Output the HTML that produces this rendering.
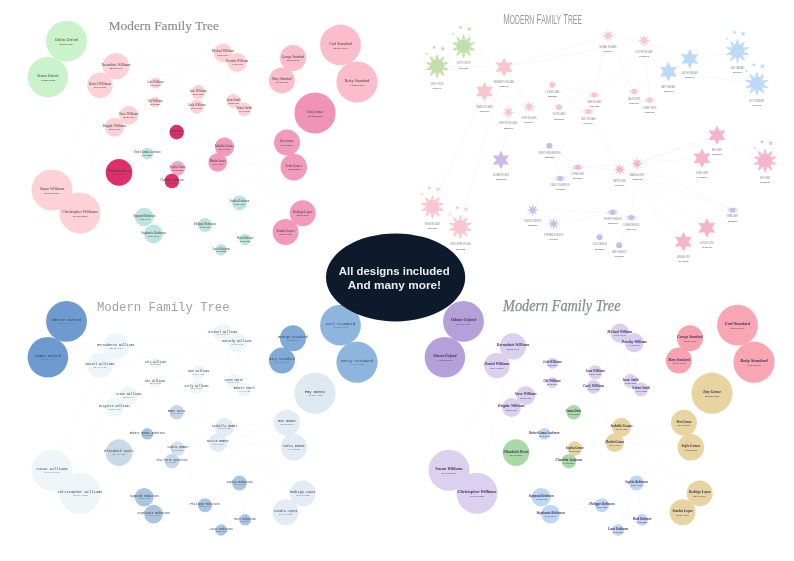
<!DOCTYPE html>
<html><head><meta charset="utf-8"><style>
html,body{margin:0;padding:0;background:#fff;width:794px;height:561px;overflow:hidden}
svg{display:block;filter:blur(0.35px)}
</style></head><body>
<svg width="794" height="561" viewBox="0 0 794 561">
<rect width="794" height="561" fill="#fff"/>
<g transform="translate(0,0)">
<g stroke="#f4f4f4" stroke-width="0.5">
<line x1="66.5" y1="41.2" x2="116" y2="66.2"/>
<line x1="47.9" y1="77.1" x2="116" y2="66.2"/>
<line x1="116" y1="66.2" x2="222.9" y2="52.8"/>
<line x1="100" y1="85.3" x2="237.2" y2="62.5"/>
<line x1="100" y1="85.3" x2="128.8" y2="115.3"/>
<line x1="100" y1="85.3" x2="114.5" y2="127.3"/>
<line x1="100" y1="85.3" x2="52" y2="190"/>
<line x1="116" y1="66.2" x2="80" y2="213"/>
<line x1="155.5" y1="83.1" x2="198.3" y2="92.2"/>
<line x1="155.5" y1="83.1" x2="196.7" y2="106.7"/>
<line x1="155.2" y1="102.2" x2="198.3" y2="92.2"/>
<line x1="155.2" y1="102.2" x2="196.7" y2="106.7"/>
<line x1="222.9" y1="52.8" x2="198.3" y2="92.2"/>
<line x1="237.2" y1="62.5" x2="196.7" y2="106.7"/>
<line x1="222.9" y1="52.8" x2="233.5" y2="100.9"/>
<line x1="237.2" y1="62.5" x2="244.2" y2="109.3"/>
<line x1="237.2" y1="62.5" x2="293" y2="58"/>
<line x1="237.2" y1="62.5" x2="281.9" y2="80.4"/>
<line x1="293" y1="58" x2="340.5" y2="45"/>
<line x1="281.9" y1="80.4" x2="357" y2="82"/>
<line x1="196.7" y1="106.7" x2="217.7" y2="162.4"/>
<line x1="217.7" y1="162.4" x2="287" y2="142.5"/>
<line x1="217.7" y1="162.4" x2="293.8" y2="167.1"/>
<line x1="224.5" y1="147" x2="287" y2="142.5"/>
<line x1="217.7" y1="162.4" x2="302.7" y2="213.2"/>
<line x1="217.7" y1="162.4" x2="285.6" y2="232"/>
<line x1="224.5" y1="147" x2="177.7" y2="168.4"/>
<line x1="217.7" y1="162.4" x2="177.7" y2="168.4"/>
<line x1="217.7" y1="162.4" x2="239.5" y2="202.8"/>
<line x1="239.5" y1="202.8" x2="205" y2="225"/>
<line x1="205" y1="225" x2="221.2" y2="249.8"/>
<line x1="205" y1="225" x2="245.1" y2="239.6"/>
<line x1="239.5" y1="202.8" x2="245.1" y2="239.6"/>
<line x1="239.5" y1="202.8" x2="221.2" y2="249.8"/>
<line x1="205" y1="225" x2="144.2" y2="217"/>
<line x1="205" y1="225" x2="153.5" y2="233.9"/>
<line x1="147.3" y1="153.6" x2="177.7" y2="168.4"/>
<line x1="147.3" y1="153.6" x2="171.9" y2="181"/>
<line x1="119" y1="172.4" x2="114.5" y2="127.3"/>
<line x1="176.7" y1="132.1" x2="224.5" y2="147"/>
<line x1="315" y1="113" x2="357" y2="82"/>
<line x1="224.5" y1="147" x2="302.7" y2="213.2"/>
</g>
<circle cx="66.5" cy="41.2" r="20.45" fill="#cbf3cb"/>
<circle cx="47.9" cy="77.1" r="20.3" fill="#cbf3cb"/>
<circle cx="116" cy="66.2" r="13.2" fill="#fdd1d6"/>
<circle cx="100" cy="85.3" r="12.7" fill="#fdd1d6"/>
<circle cx="155.5" cy="83.1" r="5.5" fill="#fdd1d6"/>
<circle cx="155.2" cy="102.2" r="5.4" fill="#fdd1d6"/>
<circle cx="128.8" cy="115.3" r="9.5" fill="#fdd1d6"/>
<circle cx="114.5" cy="127.3" r="9.5" fill="#fdd1d6"/>
<circle cx="198.3" cy="92.2" r="7.1" fill="#fdd1d6"/>
<circle cx="196.7" cy="106.7" r="7" fill="#fdd1d6"/>
<circle cx="222.9" cy="52.8" r="9.4" fill="#fdd1d6"/>
<circle cx="237.2" cy="62.5" r="9.6" fill="#fdd1d6"/>
<circle cx="233.5" cy="100.9" r="7" fill="#fdd1d6"/>
<circle cx="244.2" cy="109.3" r="7" fill="#fdd1d6"/>
<circle cx="293" cy="58" r="13" fill="#fbbccb"/>
<circle cx="281.9" cy="80.4" r="13" fill="#fbbccb"/>
<circle cx="340.5" cy="45" r="20.4" fill="#fbbccb"/>
<circle cx="357" cy="82" r="20.6" fill="#fbbccb"/>
<circle cx="315" cy="113" r="20.6" fill="#f193b6"/>
<circle cx="287" cy="142.5" r="13" fill="#f29ab9"/>
<circle cx="293.8" cy="167.1" r="13.3" fill="#f29ab9"/>
<circle cx="224.5" cy="147" r="9.5" fill="#f29ab9"/>
<circle cx="217.7" cy="162.4" r="9.3" fill="#f29ab9"/>
<circle cx="119" cy="172.4" r="13.3" fill="#de2f69"/>
<circle cx="176.7" cy="132.1" r="7.3" fill="#de2f69"/>
<circle cx="147.3" cy="153.6" r="5.8" fill="#bde5e0"/>
<circle cx="177.7" cy="168.4" r="7.3" fill="#f3a8c2"/>
<circle cx="171.9" cy="181" r="7.3" fill="#de2f69"/>
<circle cx="52" cy="190" r="20.5" fill="#fdd1d6"/>
<circle cx="80" cy="213" r="20.5" fill="#fdd1d6"/>
<circle cx="144.2" cy="217" r="9.3" fill="#bde5e0"/>
<circle cx="153.5" cy="233.9" r="9.4" fill="#bde5e0"/>
<circle cx="239.5" cy="202.8" r="7.4" fill="#bde5e0"/>
<circle cx="205" cy="225" r="7" fill="#bde5e0"/>
<circle cx="245.1" cy="239.6" r="5.8" fill="#bde5e0"/>
<circle cx="221.2" cy="249.8" r="5.8" fill="#bde5e0"/>
<circle cx="302.7" cy="213.2" r="13" fill="#f29ab9"/>
<circle cx="285.6" cy="232" r="13" fill="#f29ab9"/>
<g font-family='"Liberation Serif", serif' font-style="normal" font-weight="normal" text-anchor="middle">
<text x="66.5" y="40.78" font-size="4.24" fill="#3e3e3e" textLength="22.95" lengthAdjust="spacingAndGlyphs">Odette Oxford</text>
<text x="66.5" y="44.8" font-size="2.88" fill="#505050" font-style="normal" font-weight="bold" textLength="14.66" lengthAdjust="spacingAndGlyphs">03/04/1951</text>
<text x="47.9" y="76.68" font-size="4.23" fill="#3e3e3e" textLength="21.13" lengthAdjust="spacingAndGlyphs">Simon Oxford</text>
<text x="47.9" y="80.69" font-size="2.87" fill="#505050" font-style="normal" font-weight="bold" textLength="14.61" lengthAdjust="spacingAndGlyphs">14/06/1949</text>
<text x="116" y="65.84" font-size="3.63" fill="#3e3e3e" textLength="28.73" lengthAdjust="spacingAndGlyphs">Bernadette Williams</text>
<text x="116" y="69.28" font-size="2.47" fill="#505050" font-style="normal" font-weight="bold" textLength="12.55" lengthAdjust="spacingAndGlyphs">08/02/1974</text>
<text x="100" y="84.94" font-size="3.59" fill="#3e3e3e" textLength="22.42" lengthAdjust="spacingAndGlyphs">Daniel Williams</text>
<text x="100" y="88.35" font-size="2.44" fill="#505050" font-style="normal" font-weight="bold" textLength="12.4" lengthAdjust="spacingAndGlyphs">05/11/1970</text>
<text x="155.5" y="82.8" font-size="2.98" fill="#3e3e3e" textLength="16.15" lengthAdjust="spacingAndGlyphs">Lola Williams</text>
<text x="155.5" y="85.63" font-size="2.03" fill="#505050" font-style="normal" font-weight="bold" textLength="10.31" lengthAdjust="spacingAndGlyphs">12/05/2001</text>
<text x="155.2" y="101.9" font-size="2.97" fill="#3e3e3e" textLength="14.87" lengthAdjust="spacingAndGlyphs">Oki Williams</text>
<text x="155.2" y="104.73" font-size="2.02" fill="#505050" font-style="normal" font-weight="bold" textLength="10.28" lengthAdjust="spacingAndGlyphs">22/10/2003</text>
<text x="128.8" y="114.97" font-size="3.32" fill="#3e3e3e" textLength="19.36" lengthAdjust="spacingAndGlyphs">Steve Williams</text>
<text x="128.8" y="118.12" font-size="2.26" fill="#505050" font-style="normal" font-weight="bold" textLength="11.47" lengthAdjust="spacingAndGlyphs">02/08/1999</text>
<text x="114.5" y="126.97" font-size="3.32" fill="#3e3e3e" textLength="23.5" lengthAdjust="spacingAndGlyphs">Brigitte Williams</text>
<text x="114.5" y="130.12" font-size="2.26" fill="#505050" font-style="normal" font-weight="bold" textLength="11.47" lengthAdjust="spacingAndGlyphs">18/03/1997</text>
<text x="198.3" y="91.89" font-size="3.12" fill="#3e3e3e" textLength="16.88" lengthAdjust="spacingAndGlyphs">Jane Williams</text>
<text x="198.3" y="94.85" font-size="2.12" fill="#505050" font-style="normal" font-weight="bold" textLength="10.78" lengthAdjust="spacingAndGlyphs">09/01/1962</text>
<text x="196.7" y="106.39" font-size="3.11" fill="#3e3e3e" textLength="18.13" lengthAdjust="spacingAndGlyphs">Carly Williams</text>
<text x="196.7" y="109.34" font-size="2.11" fill="#505050" font-style="normal" font-weight="bold" textLength="10.75" lengthAdjust="spacingAndGlyphs">07/07/1964</text>
<text x="222.9" y="52.47" font-size="3.31" fill="#3e3e3e" textLength="22.06" lengthAdjust="spacingAndGlyphs">Michael Williams</text>
<text x="222.9" y="55.61" font-size="2.25" fill="#505050" font-style="normal" font-weight="bold" textLength="11.45" lengthAdjust="spacingAndGlyphs">04/09/1941</text>
<text x="237.2" y="62.17" font-size="3.33" fill="#3e3e3e" textLength="22.18" lengthAdjust="spacingAndGlyphs">Dorothy Williams</text>
<text x="237.2" y="65.33" font-size="2.26" fill="#505050" font-style="normal" font-weight="bold" textLength="11.5" lengthAdjust="spacingAndGlyphs">17/12/1943</text>
<text x="233.5" y="100.59" font-size="3.11" fill="#3e3e3e" textLength="14.25" lengthAdjust="spacingAndGlyphs">Jason Smith</text>
<text x="233.5" y="103.54" font-size="2.11" fill="#505050" font-style="normal" font-weight="bold" textLength="10.75" lengthAdjust="spacingAndGlyphs">30/06/1960</text>
<text x="244.2" y="108.99" font-size="3.11" fill="#3e3e3e" textLength="15.54" lengthAdjust="spacingAndGlyphs">Robert Smith</text>
<text x="244.2" y="111.94" font-size="2.11" fill="#505050" font-style="normal" font-weight="bold" textLength="10.75" lengthAdjust="spacingAndGlyphs">11/11/1958</text>
<text x="293" y="57.64" font-size="3.61" fill="#3e3e3e" textLength="22.58" lengthAdjust="spacingAndGlyphs">George Standard</text>
<text x="293" y="61.07" font-size="2.46" fill="#505050" font-style="normal" font-weight="bold" textLength="12.49" lengthAdjust="spacingAndGlyphs">02/02/1946</text>
<text x="281.9" y="80.04" font-size="3.61" fill="#3e3e3e" textLength="19.57" lengthAdjust="spacingAndGlyphs">Mary Standard</text>
<text x="281.9" y="83.47" font-size="2.46" fill="#505050" font-style="normal" font-weight="bold" textLength="12.49" lengthAdjust="spacingAndGlyphs">21/05/1948</text>
<text x="340.5" y="44.58" font-size="4.23" fill="#3e3e3e" textLength="22.93" lengthAdjust="spacingAndGlyphs">Carl Standard</text>
<text x="340.5" y="48.6" font-size="2.88" fill="#505050" font-style="normal" font-weight="bold" textLength="14.64" lengthAdjust="spacingAndGlyphs">02/07/1977</text>
<text x="357" y="81.57" font-size="4.25" fill="#3e3e3e" textLength="24.79" lengthAdjust="spacingAndGlyphs">Betty Standard</text>
<text x="357" y="85.61" font-size="2.89" fill="#505050" font-style="normal" font-weight="bold" textLength="14.7" lengthAdjust="spacingAndGlyphs">14/04/1979</text>
<text x="315" y="112.57" font-size="4.25" fill="#3e3e3e" textLength="15.94" lengthAdjust="spacingAndGlyphs">Emy Gomez</text>
<text x="315" y="116.61" font-size="2.89" fill="#505050" font-style="normal" font-weight="bold" textLength="14.7" lengthAdjust="spacingAndGlyphs">28/08/1980</text>
<text x="287" y="142.14" font-size="3.61" fill="#3e3e3e" textLength="13.55" lengthAdjust="spacingAndGlyphs">Ben Gomez</text>
<text x="287" y="145.57" font-size="2.46" fill="#505050" font-style="normal" font-weight="bold" textLength="12.49" lengthAdjust="spacingAndGlyphs">05/03/2004</text>
<text x="293.8" y="166.74" font-size="3.64" fill="#3e3e3e" textLength="16.67" lengthAdjust="spacingAndGlyphs">Sofia Gomez</text>
<text x="293.8" y="170.19" font-size="2.47" fill="#505050" font-style="normal" font-weight="bold" textLength="12.58" lengthAdjust="spacingAndGlyphs">19/09/2006</text>
<text x="224.5" y="146.67" font-size="3.32" fill="#3e3e3e" textLength="19.36" lengthAdjust="spacingAndGlyphs">Isabella Gomez</text>
<text x="224.5" y="149.82" font-size="2.26" fill="#505050" font-style="normal" font-weight="bold" textLength="11.47" lengthAdjust="spacingAndGlyphs">08/10/1982</text>
<text x="217.7" y="162.07" font-size="3.3" fill="#3e3e3e" textLength="16.51" lengthAdjust="spacingAndGlyphs">Martin Gomez</text>
<text x="217.7" y="165.21" font-size="2.24" fill="#505050" font-style="normal" font-weight="bold" textLength="11.42" lengthAdjust="spacingAndGlyphs">16/01/1979</text>
<text x="119" y="172.04" font-size="3.64" fill="#3e3e3e" textLength="22.73" lengthAdjust="spacingAndGlyphs">Elizabeth Davis</text>
<text x="119" y="175.49" font-size="2.47" fill="#505050" font-style="normal" font-weight="bold" textLength="12.58" lengthAdjust="spacingAndGlyphs">25/12/1985</text>
<text x="176.7" y="131.79" font-size="3.13" fill="#3e3e3e" textLength="13.06" lengthAdjust="spacingAndGlyphs">Emma Davis</text>
<text x="176.7" y="134.76" font-size="2.13" fill="#505050" font-style="normal" font-weight="bold" textLength="10.84" lengthAdjust="spacingAndGlyphs">03/03/2008</text>
<text x="147.3" y="153.3" font-size="3.01" fill="#3e3e3e" textLength="26.31" lengthAdjust="spacingAndGlyphs">Robert Gomez Anderson</text>
<text x="147.3" y="156.16" font-size="2.04" fill="#505050" font-style="normal" font-weight="bold" textLength="10.4" lengthAdjust="spacingAndGlyphs">12/12/2010</text>
<text x="177.7" y="168.09" font-size="3.13" fill="#3e3e3e" textLength="15.67" lengthAdjust="spacingAndGlyphs">Sophia Gomez</text>
<text x="177.7" y="171.06" font-size="2.13" fill="#505050" font-style="normal" font-weight="bold" textLength="10.84" lengthAdjust="spacingAndGlyphs">06/06/2009</text>
<text x="171.9" y="180.69" font-size="3.13" fill="#3e3e3e" textLength="23.5" lengthAdjust="spacingAndGlyphs">Charlotte Anderson</text>
<text x="171.9" y="183.66" font-size="2.13" fill="#505050" font-style="normal" font-weight="bold" textLength="10.84" lengthAdjust="spacingAndGlyphs">01/09/2011</text>
<text x="52" y="189.58" font-size="4.24" fill="#3e3e3e" textLength="24.75" lengthAdjust="spacingAndGlyphs">Susan Williams</text>
<text x="52" y="193.61" font-size="2.88" fill="#505050" font-style="normal" font-weight="bold" textLength="14.67" lengthAdjust="spacingAndGlyphs">27/04/1967</text>
<text x="80" y="212.58" font-size="4.24" fill="#3e3e3e" textLength="35.35" lengthAdjust="spacingAndGlyphs">Christopher Williams</text>
<text x="80" y="216.61" font-size="2.88" fill="#505050" font-style="normal" font-weight="bold" textLength="14.67" lengthAdjust="spacingAndGlyphs">10/10/1965</text>
<text x="144.2" y="216.67" font-size="3.3" fill="#3e3e3e" textLength="22.01" lengthAdjust="spacingAndGlyphs">Sigmund Robinson</text>
<text x="144.2" y="219.81" font-size="2.24" fill="#505050" font-style="normal" font-weight="bold" textLength="11.42" lengthAdjust="spacingAndGlyphs">13/02/1972</text>
<text x="153.5" y="233.57" font-size="3.31" fill="#3e3e3e" textLength="24.82" lengthAdjust="spacingAndGlyphs">Stephanie Robinson</text>
<text x="153.5" y="236.71" font-size="2.25" fill="#505050" font-style="normal" font-weight="bold" textLength="11.45" lengthAdjust="spacingAndGlyphs">04/04/1974</text>
<text x="239.5" y="202.49" font-size="3.14" fill="#3e3e3e" textLength="19.64" lengthAdjust="spacingAndGlyphs">Sophia Robinson</text>
<text x="239.5" y="205.47" font-size="2.14" fill="#505050" font-style="normal" font-weight="bold" textLength="10.86" lengthAdjust="spacingAndGlyphs">20/07/1998</text>
<text x="205" y="224.69" font-size="3.11" fill="#3e3e3e" textLength="22.02" lengthAdjust="spacingAndGlyphs">Philippe Robinson</text>
<text x="205" y="227.64" font-size="2.11" fill="#505050" font-style="normal" font-weight="bold" textLength="10.75" lengthAdjust="spacingAndGlyphs">15/05/1995</text>
<text x="245.1" y="239.3" font-size="3.01" fill="#3e3e3e" textLength="16.29" lengthAdjust="spacingAndGlyphs">Mark Robinson</text>
<text x="245.1" y="242.16" font-size="2.04" fill="#505050" font-style="normal" font-weight="bold" textLength="10.4" lengthAdjust="spacingAndGlyphs">09/09/2000</text>
<text x="221.2" y="249.5" font-size="3.01" fill="#3e3e3e" textLength="17.54" lengthAdjust="spacingAndGlyphs">Louis Robinson</text>
<text x="221.2" y="252.36" font-size="2.04" fill="#505050" font-style="normal" font-weight="bold" textLength="10.4" lengthAdjust="spacingAndGlyphs">23/03/2002</text>
<text x="302.7" y="212.84" font-size="3.61" fill="#3e3e3e" textLength="19.57" lengthAdjust="spacingAndGlyphs">Rodrigo Lopez</text>
<text x="302.7" y="216.27" font-size="2.46" fill="#505050" font-style="normal" font-weight="bold" textLength="12.49" lengthAdjust="spacingAndGlyphs">06/12/1983</text>
<text x="285.6" y="231.64" font-size="3.61" fill="#3e3e3e" textLength="18.06" lengthAdjust="spacingAndGlyphs">Sandra Lopez</text>
<text x="285.6" y="235.07" font-size="2.46" fill="#505050" font-style="normal" font-weight="bold" textLength="12.49" lengthAdjust="spacingAndGlyphs">29/01/1985</text>
</g>
</g>
<g transform="translate(0,280.2)">
<g stroke="#f4f4f4" stroke-width="0.5">
<line x1="66.5" y1="41.2" x2="116" y2="66.2"/>
<line x1="47.9" y1="77.1" x2="116" y2="66.2"/>
<line x1="116" y1="66.2" x2="222.9" y2="52.8"/>
<line x1="100" y1="85.3" x2="237.2" y2="62.5"/>
<line x1="100" y1="85.3" x2="128.8" y2="115.3"/>
<line x1="100" y1="85.3" x2="114.5" y2="127.3"/>
<line x1="100" y1="85.3" x2="52" y2="190"/>
<line x1="116" y1="66.2" x2="80" y2="213"/>
<line x1="155.5" y1="83.1" x2="198.3" y2="92.2"/>
<line x1="155.5" y1="83.1" x2="196.7" y2="106.7"/>
<line x1="155.2" y1="102.2" x2="198.3" y2="92.2"/>
<line x1="155.2" y1="102.2" x2="196.7" y2="106.7"/>
<line x1="222.9" y1="52.8" x2="198.3" y2="92.2"/>
<line x1="237.2" y1="62.5" x2="196.7" y2="106.7"/>
<line x1="222.9" y1="52.8" x2="233.5" y2="100.9"/>
<line x1="237.2" y1="62.5" x2="244.2" y2="109.3"/>
<line x1="237.2" y1="62.5" x2="293" y2="58"/>
<line x1="237.2" y1="62.5" x2="281.9" y2="80.4"/>
<line x1="293" y1="58" x2="340.5" y2="45"/>
<line x1="281.9" y1="80.4" x2="357" y2="82"/>
<line x1="196.7" y1="106.7" x2="217.7" y2="162.4"/>
<line x1="217.7" y1="162.4" x2="287" y2="142.5"/>
<line x1="217.7" y1="162.4" x2="293.8" y2="167.1"/>
<line x1="224.5" y1="147" x2="287" y2="142.5"/>
<line x1="217.7" y1="162.4" x2="302.7" y2="213.2"/>
<line x1="217.7" y1="162.4" x2="285.6" y2="232"/>
<line x1="224.5" y1="147" x2="177.7" y2="168.4"/>
<line x1="217.7" y1="162.4" x2="177.7" y2="168.4"/>
<line x1="217.7" y1="162.4" x2="239.5" y2="202.8"/>
<line x1="239.5" y1="202.8" x2="205" y2="225"/>
<line x1="205" y1="225" x2="221.2" y2="249.8"/>
<line x1="205" y1="225" x2="245.1" y2="239.6"/>
<line x1="239.5" y1="202.8" x2="245.1" y2="239.6"/>
<line x1="239.5" y1="202.8" x2="221.2" y2="249.8"/>
<line x1="205" y1="225" x2="144.2" y2="217"/>
<line x1="205" y1="225" x2="153.5" y2="233.9"/>
<line x1="147.3" y1="153.6" x2="177.7" y2="168.4"/>
<line x1="147.3" y1="153.6" x2="171.9" y2="181"/>
<line x1="119" y1="172.4" x2="114.5" y2="127.3"/>
<line x1="176.7" y1="132.1" x2="224.5" y2="147"/>
<line x1="315" y1="113" x2="357" y2="82"/>
<line x1="224.5" y1="147" x2="302.7" y2="213.2"/>
</g>
<circle cx="66.5" cy="41.2" r="20.45" fill="#6d9bcf"/>
<circle cx="47.9" cy="77.1" r="20.3" fill="#6d9bcf"/>
<circle cx="116" cy="66.2" r="13.2" fill="#eef6f9"/>
<circle cx="100" cy="85.3" r="12.7" fill="#eef6f9"/>
<circle cx="155.5" cy="83.1" r="5.5" fill="#eef6f9"/>
<circle cx="155.2" cy="102.2" r="5.4" fill="#eef6f9"/>
<circle cx="128.8" cy="115.3" r="9.5" fill="#eef6f9"/>
<circle cx="114.5" cy="127.3" r="9.5" fill="#eef6f9"/>
<circle cx="198.3" cy="92.2" r="7.1" fill="#eef6f9"/>
<circle cx="196.7" cy="106.7" r="7" fill="#eef6f9"/>
<circle cx="222.9" cy="52.8" r="9.4" fill="#eef6f9"/>
<circle cx="237.2" cy="62.5" r="9.6" fill="#eef6f9"/>
<circle cx="233.5" cy="100.9" r="7" fill="#eef6f9"/>
<circle cx="244.2" cy="109.3" r="7" fill="#eef6f9"/>
<circle cx="293" cy="58" r="13" fill="#80aad8"/>
<circle cx="281.9" cy="80.4" r="13" fill="#80aad8"/>
<circle cx="340.5" cy="45" r="20.4" fill="#8db5de"/>
<circle cx="357" cy="82" r="20.6" fill="#8db5de"/>
<circle cx="315" cy="113" r="20.6" fill="#dfe9f2"/>
<circle cx="287" cy="142.5" r="13" fill="#e3ecf4"/>
<circle cx="293.8" cy="167.1" r="13.3" fill="#e3ecf4"/>
<circle cx="224.5" cy="147" r="9.5" fill="#e3ecf4"/>
<circle cx="217.7" cy="162.4" r="9.3" fill="#e3ecf4"/>
<circle cx="119" cy="172.4" r="13.3" fill="#c8d9e8"/>
<circle cx="176.7" cy="132.1" r="7.3" fill="#c6d7e7"/>
<circle cx="147.3" cy="153.6" r="5.8" fill="#a7c3de"/>
<circle cx="177.7" cy="168.4" r="7.3" fill="#d6e3ef"/>
<circle cx="171.9" cy="181" r="7.3" fill="#c6d7e7"/>
<circle cx="52" cy="190" r="20.5" fill="#eef6f9"/>
<circle cx="80" cy="213" r="20.5" fill="#eef6f9"/>
<circle cx="144.2" cy="217" r="9.3" fill="#a9c5e0"/>
<circle cx="153.5" cy="233.9" r="9.4" fill="#a9c5e0"/>
<circle cx="239.5" cy="202.8" r="7.4" fill="#a9c5e0"/>
<circle cx="205" cy="225" r="7" fill="#a9c5e0"/>
<circle cx="245.1" cy="239.6" r="5.8" fill="#a9c5e0"/>
<circle cx="221.2" cy="249.8" r="5.8" fill="#a9c5e0"/>
<circle cx="302.7" cy="213.2" r="13" fill="#e3ecf4"/>
<circle cx="285.6" cy="232" r="13" fill="#e3ecf4"/>
<g font-family='"Liberation Mono", monospace' font-style="normal" font-weight="normal" text-anchor="middle">
<text x="66.5" y="40.83" font-size="3.75" fill="#36424f" textLength="29.22" lengthAdjust="spacingAndGlyphs">Odette Oxford</text>
<text x="66.5" y="44.01" font-size="2.32" fill="#556070" font-style="normal" textLength="15.06" lengthAdjust="spacingAndGlyphs">03/04/1951</text>
<text x="47.9" y="76.73" font-size="3.74" fill="#36424f" textLength="26.9" lengthAdjust="spacingAndGlyphs">Simon Oxford</text>
<text x="47.9" y="79.9" font-size="2.32" fill="#556070" font-style="normal" textLength="15.02" lengthAdjust="spacingAndGlyphs">14/06/1949</text>
<text x="116" y="65.87" font-size="3.27" fill="#36424f" textLength="37.33" lengthAdjust="spacingAndGlyphs">Bernadette Williams</text>
<text x="116" y="68.66" font-size="2.03" fill="#556070" font-style="normal" textLength="13.16" lengthAdjust="spacingAndGlyphs">08/02/1974</text>
<text x="100" y="84.98" font-size="3.24" fill="#36424f" textLength="29.18" lengthAdjust="spacingAndGlyphs">Daniel Williams</text>
<text x="100" y="87.73" font-size="2.01" fill="#556070" font-style="normal" textLength="13.03" lengthAdjust="spacingAndGlyphs">05/11/1970</text>
<text x="155.5" y="82.82" font-size="2.77" fill="#36424f" textLength="21.64" lengthAdjust="spacingAndGlyphs">Lola Williams</text>
<text x="155.5" y="85.18" font-size="1.72" fill="#556070" font-style="normal" textLength="11.15" lengthAdjust="spacingAndGlyphs">12/05/2001</text>
<text x="155.2" y="101.92" font-size="2.77" fill="#36424f" textLength="19.93" lengthAdjust="spacingAndGlyphs">Oki Williams</text>
<text x="155.2" y="104.28" font-size="1.72" fill="#556070" font-style="normal" textLength="11.13" lengthAdjust="spacingAndGlyphs">22/10/2003</text>
<text x="128.8" y="115" font-size="3.03" fill="#36424f" textLength="25.49" lengthAdjust="spacingAndGlyphs">Steve Williams</text>
<text x="128.8" y="117.58" font-size="1.88" fill="#556070" font-style="normal" textLength="12.2" lengthAdjust="spacingAndGlyphs">02/08/1999</text>
<text x="114.5" y="127" font-size="3.03" fill="#36424f" textLength="30.95" lengthAdjust="spacingAndGlyphs">Brigitte Williams</text>
<text x="114.5" y="129.58" font-size="1.88" fill="#556070" font-style="normal" textLength="12.2" lengthAdjust="spacingAndGlyphs">18/03/1997</text>
<text x="198.3" y="91.91" font-size="2.88" fill="#36424f" textLength="22.45" lengthAdjust="spacingAndGlyphs">Jane Williams</text>
<text x="198.3" y="94.36" font-size="1.78" fill="#556070" font-style="normal" textLength="11.57" lengthAdjust="spacingAndGlyphs">09/01/1962</text>
<text x="196.7" y="106.41" font-size="2.87" fill="#36424f" textLength="24.12" lengthAdjust="spacingAndGlyphs">Carly Williams</text>
<text x="196.7" y="108.85" font-size="1.78" fill="#556070" font-style="normal" textLength="11.54" lengthAdjust="spacingAndGlyphs">07/07/1964</text>
<text x="222.9" y="52.5" font-size="3.03" fill="#36424f" textLength="29.07" lengthAdjust="spacingAndGlyphs">Michael Williams</text>
<text x="222.9" y="55.07" font-size="1.88" fill="#556070" font-style="normal" textLength="12.17" lengthAdjust="spacingAndGlyphs">04/09/1941</text>
<text x="237.2" y="62.2" font-size="3.04" fill="#36424f" textLength="29.19" lengthAdjust="spacingAndGlyphs">Dorothy Williams</text>
<text x="237.2" y="64.78" font-size="1.89" fill="#556070" font-style="normal" textLength="12.22" lengthAdjust="spacingAndGlyphs">17/12/1943</text>
<text x="233.5" y="100.61" font-size="2.87" fill="#36424f" textLength="18.95" lengthAdjust="spacingAndGlyphs">Jason Smith</text>
<text x="233.5" y="103.05" font-size="1.78" fill="#556070" font-style="normal" textLength="11.54" lengthAdjust="spacingAndGlyphs">30/06/1960</text>
<text x="244.2" y="109.01" font-size="2.87" fill="#36424f" textLength="20.68" lengthAdjust="spacingAndGlyphs">Robert Smith</text>
<text x="244.2" y="111.45" font-size="1.78" fill="#556070" font-style="normal" textLength="11.54" lengthAdjust="spacingAndGlyphs">11/11/1958</text>
<text x="293" y="57.67" font-size="3.26" fill="#36424f" textLength="29.35" lengthAdjust="spacingAndGlyphs">George Standard</text>
<text x="293" y="60.45" font-size="2.02" fill="#556070" font-style="normal" textLength="13.11" lengthAdjust="spacingAndGlyphs">02/02/1946</text>
<text x="281.9" y="80.07" font-size="3.26" fill="#36424f" textLength="25.44" lengthAdjust="spacingAndGlyphs">Mary Standard</text>
<text x="281.9" y="82.85" font-size="2.02" fill="#556070" font-style="normal" textLength="13.11" lengthAdjust="spacingAndGlyphs">21/05/1948</text>
<text x="340.5" y="44.63" font-size="3.74" fill="#36424f" textLength="29.19" lengthAdjust="spacingAndGlyphs">Carl Standard</text>
<text x="340.5" y="47.81" font-size="2.32" fill="#556070" font-style="normal" textLength="15.05" lengthAdjust="spacingAndGlyphs">02/07/1977</text>
<text x="357" y="81.62" font-size="3.76" fill="#36424f" textLength="31.55" lengthAdjust="spacingAndGlyphs">Betty Standard</text>
<text x="357" y="84.82" font-size="2.33" fill="#556070" font-style="normal" textLength="15.1" lengthAdjust="spacingAndGlyphs">14/04/1979</text>
<text x="315" y="112.62" font-size="3.76" fill="#36424f" textLength="20.28" lengthAdjust="spacingAndGlyphs">Emy Gomez</text>
<text x="315" y="115.82" font-size="2.33" fill="#556070" font-style="normal" textLength="15.1" lengthAdjust="spacingAndGlyphs">28/08/1980</text>
<text x="287" y="142.17" font-size="3.26" fill="#36424f" textLength="17.61" lengthAdjust="spacingAndGlyphs">Ben Gomez</text>
<text x="287" y="144.95" font-size="2.02" fill="#556070" font-style="normal" textLength="13.11" lengthAdjust="spacingAndGlyphs">05/03/2004</text>
<text x="293.8" y="166.77" font-size="3.28" fill="#36424f" textLength="21.66" lengthAdjust="spacingAndGlyphs">Sofia Gomez</text>
<text x="293.8" y="169.56" font-size="2.03" fill="#556070" font-style="normal" textLength="13.19" lengthAdjust="spacingAndGlyphs">19/09/2006</text>
<text x="224.5" y="146.7" font-size="3.03" fill="#36424f" textLength="25.49" lengthAdjust="spacingAndGlyphs">Isabella Gomez</text>
<text x="224.5" y="149.28" font-size="1.88" fill="#556070" font-style="normal" textLength="12.2" lengthAdjust="spacingAndGlyphs">08/10/1982</text>
<text x="217.7" y="162.1" font-size="3.02" fill="#36424f" textLength="21.75" lengthAdjust="spacingAndGlyphs">Martin Gomez</text>
<text x="217.7" y="164.67" font-size="1.87" fill="#556070" font-style="normal" textLength="12.15" lengthAdjust="spacingAndGlyphs">16/01/1979</text>
<text x="119" y="172.07" font-size="3.28" fill="#36424f" textLength="29.53" lengthAdjust="spacingAndGlyphs">Elizabeth Davis</text>
<text x="119" y="174.86" font-size="2.03" fill="#556070" font-style="normal" textLength="13.19" lengthAdjust="spacingAndGlyphs">25/12/1985</text>
<text x="176.7" y="131.81" font-size="2.89" fill="#36424f" textLength="17.35" lengthAdjust="spacingAndGlyphs">Emma Davis</text>
<text x="176.7" y="134.27" font-size="1.79" fill="#556070" font-style="normal" textLength="11.62" lengthAdjust="spacingAndGlyphs">03/03/2008</text>
<text x="147.3" y="153.32" font-size="2.79" fill="#36424f" textLength="35.2" lengthAdjust="spacingAndGlyphs">Robert Gomez Anderson</text>
<text x="147.3" y="155.7" font-size="1.73" fill="#556070" font-style="normal" textLength="11.23" lengthAdjust="spacingAndGlyphs">12/12/2010</text>
<text x="177.7" y="168.11" font-size="2.89" fill="#36424f" textLength="20.82" lengthAdjust="spacingAndGlyphs">Sophia Gomez</text>
<text x="177.7" y="170.57" font-size="1.79" fill="#556070" font-style="normal" textLength="11.62" lengthAdjust="spacingAndGlyphs">06/06/2009</text>
<text x="171.9" y="180.71" font-size="2.89" fill="#36424f" textLength="31.22" lengthAdjust="spacingAndGlyphs">Charlotte Anderson</text>
<text x="171.9" y="183.17" font-size="1.79" fill="#556070" font-style="normal" textLength="11.62" lengthAdjust="spacingAndGlyphs">01/09/2011</text>
<text x="52" y="189.63" font-size="3.75" fill="#36424f" textLength="31.49" lengthAdjust="spacingAndGlyphs">Susan Williams</text>
<text x="52" y="192.81" font-size="2.32" fill="#556070" font-style="normal" textLength="15.07" lengthAdjust="spacingAndGlyphs">27/04/1967</text>
<text x="80" y="212.63" font-size="3.75" fill="#36424f" textLength="44.99" lengthAdjust="spacingAndGlyphs">Christopher Williams</text>
<text x="80" y="215.81" font-size="2.32" fill="#556070" font-style="normal" textLength="15.07" lengthAdjust="spacingAndGlyphs">10/10/1965</text>
<text x="144.2" y="216.7" font-size="3.02" fill="#36424f" textLength="29" lengthAdjust="spacingAndGlyphs">Sigmund Robinson</text>
<text x="144.2" y="219.27" font-size="1.87" fill="#556070" font-style="normal" textLength="12.15" lengthAdjust="spacingAndGlyphs">13/02/1972</text>
<text x="153.5" y="233.6" font-size="3.03" fill="#36424f" textLength="32.7" lengthAdjust="spacingAndGlyphs">Stephanie Robinson</text>
<text x="153.5" y="236.17" font-size="1.88" fill="#556070" font-style="normal" textLength="12.17" lengthAdjust="spacingAndGlyphs">04/04/1974</text>
<text x="239.5" y="202.51" font-size="2.9" fill="#36424f" textLength="26.08" lengthAdjust="spacingAndGlyphs">Sophia Robinson</text>
<text x="239.5" y="204.97" font-size="1.8" fill="#556070" font-style="normal" textLength="11.65" lengthAdjust="spacingAndGlyphs">20/07/1998</text>
<text x="205" y="224.71" font-size="2.87" fill="#36424f" textLength="29.29" lengthAdjust="spacingAndGlyphs">Philippe Robinson</text>
<text x="205" y="227.15" font-size="1.78" fill="#556070" font-style="normal" textLength="11.54" lengthAdjust="spacingAndGlyphs">15/05/1995</text>
<text x="245.1" y="239.32" font-size="2.79" fill="#36424f" textLength="21.79" lengthAdjust="spacingAndGlyphs">Mark Robinson</text>
<text x="245.1" y="241.7" font-size="1.73" fill="#556070" font-style="normal" textLength="11.23" lengthAdjust="spacingAndGlyphs">09/09/2000</text>
<text x="221.2" y="249.52" font-size="2.79" fill="#36424f" textLength="23.47" lengthAdjust="spacingAndGlyphs">Louis Robinson</text>
<text x="221.2" y="251.9" font-size="1.73" fill="#556070" font-style="normal" textLength="11.23" lengthAdjust="spacingAndGlyphs">23/03/2002</text>
<text x="302.7" y="212.87" font-size="3.26" fill="#36424f" textLength="25.44" lengthAdjust="spacingAndGlyphs">Rodrigo Lopez</text>
<text x="302.7" y="215.65" font-size="2.02" fill="#556070" font-style="normal" textLength="13.11" lengthAdjust="spacingAndGlyphs">06/12/1983</text>
<text x="285.6" y="231.67" font-size="3.26" fill="#36424f" textLength="23.48" lengthAdjust="spacingAndGlyphs">Sandra Lopez</text>
<text x="285.6" y="234.45" font-size="2.02" fill="#556070" font-style="normal" textLength="13.11" lengthAdjust="spacingAndGlyphs">29/01/1985</text>
</g>
</g>
<g transform="translate(397,280.2)">
<g stroke="#f4f4f4" stroke-width="0.5">
<line x1="66.5" y1="41.2" x2="116" y2="66.2"/>
<line x1="47.9" y1="77.1" x2="116" y2="66.2"/>
<line x1="116" y1="66.2" x2="222.9" y2="52.8"/>
<line x1="100" y1="85.3" x2="237.2" y2="62.5"/>
<line x1="100" y1="85.3" x2="128.8" y2="115.3"/>
<line x1="100" y1="85.3" x2="114.5" y2="127.3"/>
<line x1="100" y1="85.3" x2="52" y2="190"/>
<line x1="116" y1="66.2" x2="80" y2="213"/>
<line x1="155.5" y1="83.1" x2="198.3" y2="92.2"/>
<line x1="155.5" y1="83.1" x2="196.7" y2="106.7"/>
<line x1="155.2" y1="102.2" x2="198.3" y2="92.2"/>
<line x1="155.2" y1="102.2" x2="196.7" y2="106.7"/>
<line x1="222.9" y1="52.8" x2="198.3" y2="92.2"/>
<line x1="237.2" y1="62.5" x2="196.7" y2="106.7"/>
<line x1="222.9" y1="52.8" x2="233.5" y2="100.9"/>
<line x1="237.2" y1="62.5" x2="244.2" y2="109.3"/>
<line x1="237.2" y1="62.5" x2="293" y2="58"/>
<line x1="237.2" y1="62.5" x2="281.9" y2="80.4"/>
<line x1="293" y1="58" x2="340.5" y2="45"/>
<line x1="281.9" y1="80.4" x2="357" y2="82"/>
<line x1="196.7" y1="106.7" x2="217.7" y2="162.4"/>
<line x1="217.7" y1="162.4" x2="287" y2="142.5"/>
<line x1="217.7" y1="162.4" x2="293.8" y2="167.1"/>
<line x1="224.5" y1="147" x2="287" y2="142.5"/>
<line x1="217.7" y1="162.4" x2="302.7" y2="213.2"/>
<line x1="217.7" y1="162.4" x2="285.6" y2="232"/>
<line x1="224.5" y1="147" x2="177.7" y2="168.4"/>
<line x1="217.7" y1="162.4" x2="177.7" y2="168.4"/>
<line x1="217.7" y1="162.4" x2="239.5" y2="202.8"/>
<line x1="239.5" y1="202.8" x2="205" y2="225"/>
<line x1="205" y1="225" x2="221.2" y2="249.8"/>
<line x1="205" y1="225" x2="245.1" y2="239.6"/>
<line x1="239.5" y1="202.8" x2="245.1" y2="239.6"/>
<line x1="239.5" y1="202.8" x2="221.2" y2="249.8"/>
<line x1="205" y1="225" x2="144.2" y2="217"/>
<line x1="205" y1="225" x2="153.5" y2="233.9"/>
<line x1="147.3" y1="153.6" x2="177.7" y2="168.4"/>
<line x1="147.3" y1="153.6" x2="171.9" y2="181"/>
<line x1="119" y1="172.4" x2="114.5" y2="127.3"/>
<line x1="176.7" y1="132.1" x2="224.5" y2="147"/>
<line x1="315" y1="113" x2="357" y2="82"/>
<line x1="224.5" y1="147" x2="302.7" y2="213.2"/>
</g>
<circle cx="66.5" cy="41.2" r="20.45" fill="#b6a0da"/>
<circle cx="47.9" cy="77.1" r="20.3" fill="#b6a0da"/>
<circle cx="116" cy="66.2" r="13.2" fill="#dcd0ef"/>
<circle cx="100" cy="85.3" r="12.7" fill="#dcd0ef"/>
<circle cx="155.5" cy="83.1" r="5.5" fill="#dcd0ef"/>
<circle cx="155.2" cy="102.2" r="5.4" fill="#dcd0ef"/>
<circle cx="128.8" cy="115.3" r="9.5" fill="#dcd0ef"/>
<circle cx="114.5" cy="127.3" r="9.5" fill="#dcd0ef"/>
<circle cx="198.3" cy="92.2" r="7.1" fill="#dcd0ef"/>
<circle cx="196.7" cy="106.7" r="7" fill="#dcd0ef"/>
<circle cx="222.9" cy="52.8" r="9.4" fill="#dcd0ef"/>
<circle cx="237.2" cy="62.5" r="9.6" fill="#dcd0ef"/>
<circle cx="233.5" cy="100.9" r="7" fill="#dcd0ef"/>
<circle cx="244.2" cy="109.3" r="7" fill="#dcd0ef"/>
<circle cx="293" cy="58" r="13" fill="#f7a2ae"/>
<circle cx="281.9" cy="80.4" r="13" fill="#f7a2ae"/>
<circle cx="340.5" cy="45" r="20.4" fill="#f8a6b2"/>
<circle cx="357" cy="82" r="20.6" fill="#f8a6b2"/>
<circle cx="315" cy="113" r="20.6" fill="#e8d4a0"/>
<circle cx="287" cy="142.5" r="13" fill="#e8d4a0"/>
<circle cx="293.8" cy="167.1" r="13.3" fill="#e8d4a0"/>
<circle cx="224.5" cy="147" r="9.5" fill="#e8d4a0"/>
<circle cx="217.7" cy="162.4" r="9.3" fill="#e8d4a0"/>
<circle cx="119" cy="172.4" r="13.3" fill="#aad8a7"/>
<circle cx="176.7" cy="132.1" r="7.3" fill="#aad8a7"/>
<circle cx="147.3" cy="153.6" r="5.8" fill="#bdd6f1"/>
<circle cx="177.7" cy="168.4" r="7.3" fill="#e8d4a0"/>
<circle cx="171.9" cy="181" r="7.3" fill="#aad8a7"/>
<circle cx="52" cy="190" r="20.5" fill="#dcd0ef"/>
<circle cx="80" cy="213" r="20.5" fill="#dcd0ef"/>
<circle cx="144.2" cy="217" r="9.3" fill="#bdd6f1"/>
<circle cx="153.5" cy="233.9" r="9.4" fill="#bdd6f1"/>
<circle cx="239.5" cy="202.8" r="7.4" fill="#bdd6f1"/>
<circle cx="205" cy="225" r="7" fill="#bdd6f1"/>
<circle cx="245.1" cy="239.6" r="5.8" fill="#bdd6f1"/>
<circle cx="221.2" cy="249.8" r="5.8" fill="#bdd6f1"/>
<circle cx="302.7" cy="213.2" r="13" fill="#e8d4a0"/>
<circle cx="285.6" cy="232" r="13" fill="#e8d4a0"/>
<g font-family='"Liberation Serif", serif' font-style="italic" font-weight="bold" text-anchor="middle">
<text x="66.5" y="41.2" font-size="4.28" fill="#3b2f5c" font-weight="bold" textLength="25.29" lengthAdjust="spacingAndGlyphs">Odette Oxford</text>
<text x="66.5" y="45.14" font-size="2.57" fill="#5a4f78" font-style="normal" font-weight="bold" textLength="14.4" lengthAdjust="spacingAndGlyphs">03/04/1951</text>
<text x="47.9" y="77.1" font-size="4.27" fill="#3b2f5c" font-weight="bold" textLength="23.28" lengthAdjust="spacingAndGlyphs">Simon Oxford</text>
<text x="47.9" y="81.03" font-size="2.56" fill="#5a4f78" font-style="normal" font-weight="bold" textLength="14.36" lengthAdjust="spacingAndGlyphs">14/06/1949</text>
<text x="116" y="66.2" font-size="3.74" fill="#3b2f5c" font-weight="bold" textLength="32.28" lengthAdjust="spacingAndGlyphs">Bernadette Williams</text>
<text x="116" y="69.64" font-size="2.24" fill="#5a4f78" font-style="normal" font-weight="bold" textLength="12.57" lengthAdjust="spacingAndGlyphs">08/02/1974</text>
<text x="100" y="85.3" font-size="3.7" fill="#3b2f5c" font-weight="bold" textLength="25.23" lengthAdjust="spacingAndGlyphs">Daniel Williams</text>
<text x="100" y="88.7" font-size="2.22" fill="#5a4f78" font-style="normal" font-weight="bold" textLength="12.45" lengthAdjust="spacingAndGlyphs">05/11/1970</text>
<text x="155.5" y="83.1" font-size="3.16" fill="#3b2f5c" font-weight="bold" textLength="18.68" lengthAdjust="spacingAndGlyphs">Lola Williams</text>
<text x="155.5" y="86.01" font-size="1.9" fill="#5a4f78" font-style="normal" font-weight="bold" textLength="10.63" lengthAdjust="spacingAndGlyphs">12/05/2001</text>
<text x="155.2" y="102.2" font-size="3.15" fill="#3b2f5c" font-weight="bold" textLength="17.2" lengthAdjust="spacingAndGlyphs">Oki Williams</text>
<text x="155.2" y="105.1" font-size="1.89" fill="#5a4f78" font-style="normal" font-weight="bold" textLength="10.61" lengthAdjust="spacingAndGlyphs">22/10/2003</text>
<text x="128.8" y="115.3" font-size="3.46" fill="#3b2f5c" font-weight="bold" textLength="22.02" lengthAdjust="spacingAndGlyphs">Steve Williams</text>
<text x="128.8" y="118.48" font-size="2.08" fill="#5a4f78" font-style="normal" font-weight="bold" textLength="11.64" lengthAdjust="spacingAndGlyphs">02/08/1999</text>
<text x="114.5" y="127.3" font-size="3.46" fill="#3b2f5c" font-weight="bold" textLength="26.74" lengthAdjust="spacingAndGlyphs">Brigitte Williams</text>
<text x="114.5" y="130.48" font-size="2.08" fill="#5a4f78" font-style="normal" font-weight="bold" textLength="11.64" lengthAdjust="spacingAndGlyphs">18/03/1997</text>
<text x="198.3" y="92.2" font-size="3.28" fill="#3b2f5c" font-weight="bold" textLength="19.39" lengthAdjust="spacingAndGlyphs">Jane Williams</text>
<text x="198.3" y="95.22" font-size="1.97" fill="#5a4f78" font-style="normal" font-weight="bold" textLength="11.04" lengthAdjust="spacingAndGlyphs">09/01/1962</text>
<text x="196.7" y="106.7" font-size="3.27" fill="#3b2f5c" font-weight="bold" textLength="20.83" lengthAdjust="spacingAndGlyphs">Carly Williams</text>
<text x="196.7" y="109.71" font-size="1.96" fill="#5a4f78" font-style="normal" font-weight="bold" textLength="11.01" lengthAdjust="spacingAndGlyphs">07/07/1964</text>
<text x="222.9" y="52.8" font-size="3.45" fill="#3b2f5c" font-weight="bold" textLength="25.11" lengthAdjust="spacingAndGlyphs">Michael Williams</text>
<text x="222.9" y="55.98" font-size="2.07" fill="#5a4f78" font-style="normal" font-weight="bold" textLength="11.62" lengthAdjust="spacingAndGlyphs">04/09/1941</text>
<text x="237.2" y="62.5" font-size="3.47" fill="#3b2f5c" font-weight="bold" textLength="25.22" lengthAdjust="spacingAndGlyphs">Dorothy Williams</text>
<text x="237.2" y="65.69" font-size="2.08" fill="#5a4f78" font-style="normal" font-weight="bold" textLength="11.67" lengthAdjust="spacingAndGlyphs">17/12/1943</text>
<text x="233.5" y="100.9" font-size="3.27" fill="#3b2f5c" font-weight="bold" textLength="16.37" lengthAdjust="spacingAndGlyphs">Jason Smith</text>
<text x="233.5" y="103.91" font-size="1.96" fill="#5a4f78" font-style="normal" font-weight="bold" textLength="11.01" lengthAdjust="spacingAndGlyphs">30/06/1960</text>
<text x="244.2" y="109.3" font-size="3.27" fill="#3b2f5c" font-weight="bold" textLength="17.86" lengthAdjust="spacingAndGlyphs">Robert Smith</text>
<text x="244.2" y="112.31" font-size="1.96" fill="#5a4f78" font-style="normal" font-weight="bold" textLength="11.01" lengthAdjust="spacingAndGlyphs">11/11/1958</text>
<text x="293" y="58" font-size="3.72" fill="#3b2f5c" font-weight="bold" textLength="25.38" lengthAdjust="spacingAndGlyphs">George Standard</text>
<text x="293" y="61.42" font-size="2.23" fill="#5a4f78" font-style="normal" font-weight="bold" textLength="12.52" lengthAdjust="spacingAndGlyphs">02/02/1946</text>
<text x="281.9" y="80.4" font-size="3.72" fill="#3b2f5c" font-weight="bold" textLength="22" lengthAdjust="spacingAndGlyphs">Mary Standard</text>
<text x="281.9" y="83.82" font-size="2.23" fill="#5a4f78" font-style="normal" font-weight="bold" textLength="12.52" lengthAdjust="spacingAndGlyphs">21/05/1948</text>
<text x="340.5" y="45" font-size="4.28" fill="#3b2f5c" font-weight="bold" textLength="25.27" lengthAdjust="spacingAndGlyphs">Carl Standard</text>
<text x="340.5" y="48.93" font-size="2.57" fill="#5a4f78" font-style="normal" font-weight="bold" textLength="14.38" lengthAdjust="spacingAndGlyphs">02/07/1977</text>
<text x="357" y="82" font-size="4.29" fill="#3b2f5c" font-weight="bold" textLength="27.31" lengthAdjust="spacingAndGlyphs">Betty Standard</text>
<text x="357" y="85.95" font-size="2.57" fill="#5a4f78" font-style="normal" font-weight="bold" textLength="14.43" lengthAdjust="spacingAndGlyphs">14/04/1979</text>
<text x="315" y="113" font-size="4.29" fill="#3b2f5c" font-weight="bold" textLength="17.55" lengthAdjust="spacingAndGlyphs">Emy Gomez</text>
<text x="315" y="116.95" font-size="2.57" fill="#5a4f78" font-style="normal" font-weight="bold" textLength="14.43" lengthAdjust="spacingAndGlyphs">28/08/1980</text>
<text x="287" y="142.5" font-size="3.72" fill="#3b2f5c" font-weight="bold" textLength="15.23" lengthAdjust="spacingAndGlyphs">Ben Gomez</text>
<text x="287" y="145.92" font-size="2.23" fill="#5a4f78" font-style="normal" font-weight="bold" textLength="12.52" lengthAdjust="spacingAndGlyphs">05/03/2004</text>
<text x="293.8" y="167.1" font-size="3.74" fill="#3b2f5c" font-weight="bold" textLength="18.72" lengthAdjust="spacingAndGlyphs">Sofia Gomez</text>
<text x="293.8" y="170.55" font-size="2.25" fill="#5a4f78" font-style="normal" font-weight="bold" textLength="12.6" lengthAdjust="spacingAndGlyphs">19/09/2006</text>
<text x="224.5" y="147" font-size="3.46" fill="#3b2f5c" font-weight="bold" textLength="22.02" lengthAdjust="spacingAndGlyphs">Isabella Gomez</text>
<text x="224.5" y="150.18" font-size="2.08" fill="#5a4f78" font-style="normal" font-weight="bold" textLength="11.64" lengthAdjust="spacingAndGlyphs">08/10/1982</text>
<text x="217.7" y="162.4" font-size="3.45" fill="#3b2f5c" font-weight="bold" textLength="18.79" lengthAdjust="spacingAndGlyphs">Martin Gomez</text>
<text x="217.7" y="165.57" font-size="2.07" fill="#5a4f78" font-style="normal" font-weight="bold" textLength="11.59" lengthAdjust="spacingAndGlyphs">16/01/1979</text>
<text x="119" y="172.4" font-size="3.74" fill="#3b2f5c" font-weight="bold" textLength="25.53" lengthAdjust="spacingAndGlyphs">Elizabeth Davis</text>
<text x="119" y="175.85" font-size="2.25" fill="#5a4f78" font-style="normal" font-weight="bold" textLength="12.6" lengthAdjust="spacingAndGlyphs">25/12/1985</text>
<text x="176.7" y="132.1" font-size="3.3" fill="#3b2f5c" font-weight="bold" textLength="14.98" lengthAdjust="spacingAndGlyphs">Emma Davis</text>
<text x="176.7" y="135.13" font-size="1.98" fill="#5a4f78" font-style="normal" font-weight="bold" textLength="11.09" lengthAdjust="spacingAndGlyphs">03/03/2008</text>
<text x="147.3" y="153.6" font-size="3.18" fill="#3b2f5c" font-weight="bold" textLength="30.39" lengthAdjust="spacingAndGlyphs">Robert Gomez Anderson</text>
<text x="147.3" y="156.53" font-size="1.91" fill="#5a4f78" font-style="normal" font-weight="bold" textLength="10.71" lengthAdjust="spacingAndGlyphs">12/12/2010</text>
<text x="177.7" y="168.4" font-size="3.3" fill="#3b2f5c" font-weight="bold" textLength="17.98" lengthAdjust="spacingAndGlyphs">Sophia Gomez</text>
<text x="177.7" y="171.43" font-size="1.98" fill="#5a4f78" font-style="normal" font-weight="bold" textLength="11.09" lengthAdjust="spacingAndGlyphs">06/06/2009</text>
<text x="171.9" y="181" font-size="3.3" fill="#3b2f5c" font-weight="bold" textLength="26.97" lengthAdjust="spacingAndGlyphs">Charlotte Anderson</text>
<text x="171.9" y="184.03" font-size="1.98" fill="#5a4f78" font-style="normal" font-weight="bold" textLength="11.09" lengthAdjust="spacingAndGlyphs">01/09/2011</text>
<text x="52" y="190" font-size="4.28" fill="#3b2f5c" font-weight="bold" textLength="27.26" lengthAdjust="spacingAndGlyphs">Susan Williams</text>
<text x="52" y="193.94" font-size="2.57" fill="#5a4f78" font-style="normal" font-weight="bold" textLength="14.41" lengthAdjust="spacingAndGlyphs">27/04/1967</text>
<text x="80" y="213" font-size="4.28" fill="#3b2f5c" font-weight="bold" textLength="38.94" lengthAdjust="spacingAndGlyphs">Christopher Williams</text>
<text x="80" y="216.94" font-size="2.57" fill="#5a4f78" font-style="normal" font-weight="bold" textLength="14.41" lengthAdjust="spacingAndGlyphs">10/10/1965</text>
<text x="144.2" y="217" font-size="3.45" fill="#3b2f5c" font-weight="bold" textLength="25.06" lengthAdjust="spacingAndGlyphs">Sigmund Robinson</text>
<text x="144.2" y="220.17" font-size="2.07" fill="#5a4f78" font-style="normal" font-weight="bold" textLength="11.59" lengthAdjust="spacingAndGlyphs">13/02/1972</text>
<text x="153.5" y="233.9" font-size="3.45" fill="#3b2f5c" font-weight="bold" textLength="28.25" lengthAdjust="spacingAndGlyphs">Stephanie Robinson</text>
<text x="153.5" y="237.08" font-size="2.07" fill="#5a4f78" font-style="normal" font-weight="bold" textLength="11.62" lengthAdjust="spacingAndGlyphs">04/04/1974</text>
<text x="239.5" y="202.8" font-size="3.3" fill="#3b2f5c" font-weight="bold" textLength="22.52" lengthAdjust="spacingAndGlyphs">Sophia Robinson</text>
<text x="239.5" y="205.84" font-size="1.98" fill="#5a4f78" font-style="normal" font-weight="bold" textLength="11.11" lengthAdjust="spacingAndGlyphs">20/07/1998</text>
<text x="205" y="225" font-size="3.27" fill="#3b2f5c" font-weight="bold" textLength="25.3" lengthAdjust="spacingAndGlyphs">Philippe Robinson</text>
<text x="205" y="228.01" font-size="1.96" fill="#5a4f78" font-style="normal" font-weight="bold" textLength="11.01" lengthAdjust="spacingAndGlyphs">15/05/1995</text>
<text x="245.1" y="239.6" font-size="3.18" fill="#3b2f5c" font-weight="bold" textLength="18.81" lengthAdjust="spacingAndGlyphs">Mark Robinson</text>
<text x="245.1" y="242.53" font-size="1.91" fill="#5a4f78" font-style="normal" font-weight="bold" textLength="10.71" lengthAdjust="spacingAndGlyphs">09/09/2000</text>
<text x="221.2" y="249.8" font-size="3.18" fill="#3b2f5c" font-weight="bold" textLength="20.26" lengthAdjust="spacingAndGlyphs">Louis Robinson</text>
<text x="221.2" y="252.73" font-size="1.91" fill="#5a4f78" font-style="normal" font-weight="bold" textLength="10.71" lengthAdjust="spacingAndGlyphs">23/03/2002</text>
<text x="302.7" y="213.2" font-size="3.72" fill="#3b2f5c" font-weight="bold" textLength="22" lengthAdjust="spacingAndGlyphs">Rodrigo Lopez</text>
<text x="302.7" y="216.62" font-size="2.23" fill="#5a4f78" font-style="normal" font-weight="bold" textLength="12.52" lengthAdjust="spacingAndGlyphs">06/12/1983</text>
<text x="285.6" y="232" font-size="3.72" fill="#3b2f5c" font-weight="bold" textLength="20.3" lengthAdjust="spacingAndGlyphs">Sandra Lopez</text>
<text x="285.6" y="235.42" font-size="2.23" fill="#5a4f78" font-style="normal" font-weight="bold" textLength="12.52" lengthAdjust="spacingAndGlyphs">29/01/1985</text>
</g>
</g>
<text x="108.8" y="29.7" font-family='"Liberation Serif", serif' font-size="13.2" fill="#8f8f8f" stroke="#8f8f8f" stroke-width="0.2" textLength="110" lengthAdjust="spacingAndGlyphs">Modern Family Tree</text>
<text x="97" y="310.5" font-family='"Liberation Mono", monospace' font-size="12.5" fill="#a2a2a2" textLength="132.6" lengthAdjust="spacingAndGlyphs">Modern Family Tree</text>
<text x="503" y="310.8" font-family='"Liberation Serif", serif' font-style="italic" font-size="16.5" fill="#858c96" stroke="#858c96" stroke-width="0.25" textLength="117.5" lengthAdjust="spacingAndGlyphs">Modern Family Tree</text>
<g stroke="#f4f1f2" stroke-width="0.55">
<line x1="463.6" y1="46.4" x2="504.1" y2="67.1"/>
<line x1="437.1" y1="66.2" x2="504.1" y2="67.1"/>
<line x1="504.1" y1="67.1" x2="608" y2="35.6"/>
<line x1="504.1" y1="67.1" x2="644.1" y2="40.5"/>
<line x1="484.5" y1="91.5" x2="529" y2="106.7"/>
<line x1="484.5" y1="91.5" x2="508.4" y2="112.3"/>
<line x1="504.1" y1="67.1" x2="529" y2="106.7"/>
<line x1="484.5" y1="91.5" x2="432.4" y2="206.9"/>
<line x1="504.1" y1="67.1" x2="460.4" y2="226.9"/>
<line x1="552.4" y1="84.8" x2="594.3" y2="95"/>
<line x1="552.4" y1="84.8" x2="588.2" y2="111.6"/>
<line x1="559" y1="107.3" x2="594.3" y2="95"/>
<line x1="559" y1="107.3" x2="588.2" y2="111.6"/>
<line x1="608" y1="35.6" x2="594.3" y2="95"/>
<line x1="608" y1="35.6" x2="588.2" y2="111.6"/>
<line x1="644.1" y1="40.5" x2="588.2" y2="111.6"/>
<line x1="608" y1="35.6" x2="634.1" y2="91.4"/>
<line x1="644.1" y1="40.5" x2="649.7" y2="100.2"/>
<line x1="644.1" y1="40.5" x2="689.8" y2="58.9"/>
<line x1="644.1" y1="40.5" x2="668.4" y2="71.7"/>
<line x1="608" y1="35.6" x2="644.1" y2="40.5"/>
<line x1="689.8" y1="58.9" x2="737.5" y2="51.2"/>
<line x1="668.4" y1="71.7" x2="756.9" y2="83.8"/>
<line x1="588.2" y1="111.6" x2="619.7" y2="169.4"/>
<line x1="619.7" y1="169.4" x2="717" y2="135.2"/>
<line x1="637" y1="163.6" x2="702" y2="158.2"/>
<line x1="637" y1="163.6" x2="717" y2="135.2"/>
<line x1="619.7" y1="169.4" x2="706.8" y2="227.8"/>
<line x1="619.7" y1="169.4" x2="683.5" y2="241.7"/>
<line x1="637" y1="163.6" x2="732.7" y2="210.1"/>
<line x1="619.7" y1="169.4" x2="732.7" y2="210.1"/>
<line x1="577.8" y1="167.3" x2="637" y2="163.6"/>
<line x1="577.8" y1="167.3" x2="619.7" y2="169.4"/>
<line x1="637" y1="163.6" x2="631.2" y2="217.6"/>
<line x1="631.2" y1="217.6" x2="612.7" y2="212.3"/>
<line x1="612.7" y1="212.3" x2="599.5" y2="237.3"/>
<line x1="631.2" y1="217.6" x2="619.2" y2="245.2"/>
<line x1="612.7" y1="212.3" x2="532.7" y2="210"/>
<line x1="612.7" y1="212.3" x2="553.6" y2="223.9"/>
<line x1="549.4" y1="145.8" x2="577.8" y2="167.3"/>
<line x1="549.4" y1="145.8" x2="560.1" y2="178.4"/>
<line x1="560.1" y1="178.4" x2="577.8" y2="167.3"/>
<line x1="501" y1="160" x2="508.4" y2="112.3"/>
<line x1="765.1" y1="160.7" x2="717" y2="135.2"/>
<line x1="683.5" y1="241.7" x2="706.8" y2="227.8"/>
</g>
<g fill="#c1dfa9"><polygon points="463.6,33.7 465.35,39.1 461.85,39.1"/><polygon points="471.06,36.13 469.31,41.52 466.48,39.47"/><polygon points="475.68,42.48 471.08,45.81 470,42.48"/><polygon points="475.68,50.32 470,50.32 471.08,46.99"/><polygon points="471.06,56.67 466.48,53.33 469.31,51.28"/><polygon points="463.6,59.1 461.85,53.7 465.35,53.7"/><polygon points="456.14,56.67 457.89,51.28 460.72,53.33"/><polygon points="451.52,50.32 456.12,46.99 457.2,50.32"/><polygon points="451.52,42.48 457.2,42.48 456.12,45.81"/><polygon points="456.14,36.13 460.72,39.47 457.89,41.52"/><circle cx="463.6" cy="46.4" r="7.2"/><polygon points="460.6,25.2 461.18,26.6 462.69,26.72 461.54,27.71 461.89,29.18 460.6,28.39 459.31,29.18 459.66,27.71 458.51,26.72 460.02,26.6"/><polygon points="469.2,26.2 469.91,27.92 471.77,28.07 470.36,29.28 470.79,31.08 469.2,30.11 467.61,31.08 468.04,29.28 466.63,28.07 468.49,27.92"/><polygon points="453.1,32.2 453.5,33.15 454.53,33.24 453.74,33.91 453.98,34.91 453.1,34.38 452.22,34.91 452.46,33.91 451.67,33.24 452.7,33.15"/></g>
<g fill="#c1dfa9"><polygon points="437.1,53.5 438.85,58.9 435.35,58.9"/><polygon points="444.56,55.93 442.81,61.32 439.98,59.27"/><polygon points="449.18,62.28 444.58,65.61 443.5,62.28"/><polygon points="449.18,70.12 443.5,70.12 444.58,66.79"/><polygon points="444.56,76.47 439.98,73.13 442.81,71.08"/><polygon points="437.1,78.9 435.35,73.5 438.85,73.5"/><polygon points="429.64,76.47 431.39,71.08 434.22,73.13"/><polygon points="425.02,70.12 429.62,66.79 430.7,70.12"/><polygon points="425.02,62.28 430.7,62.28 429.62,65.61"/><polygon points="429.64,55.93 434.22,59.27 431.39,61.32"/><circle cx="437.1" cy="66.2" r="7.2"/><polygon points="434.1,45 434.68,46.4 436.19,46.52 435.04,47.51 435.39,48.98 434.1,48.19 432.81,48.98 433.16,47.51 432.01,46.52 433.52,46.4"/><polygon points="442.7,46 443.41,47.72 445.27,47.87 443.86,49.08 444.29,50.88 442.7,49.92 441.11,50.88 441.54,49.08 440.13,47.87 441.99,47.72"/><polygon points="426.6,52 427,52.95 428.03,53.04 427.24,53.71 427.48,54.71 426.6,54.17 425.72,54.71 425.96,53.71 425.17,53.04 426.2,52.95"/></g>
<g fill="#f9c6cd"><polygon points="504.1,57.2 506.67,62.64 512.67,62.15 509.25,67.1 512.67,72.05 506.67,71.56 504.1,77 501.53,71.56 495.53,72.05 498.95,67.1 495.53,62.15 501.53,62.64"/></g>
<g fill="#f9c6cd"><polygon points="484.5,81.6 487.07,87.04 493.07,86.55 489.65,91.5 493.07,96.45 487.07,95.96 484.5,101.4 481.93,95.96 475.93,96.45 479.35,91.5 475.93,86.55 481.93,87.04"/></g>
<g fill="#f9c6cd"><polygon points="529,100.3 529.92,104.48 533.53,102.17 531.22,105.78 535.4,106.7 531.22,107.62 533.53,111.23 529.92,108.92 529,113.1 528.08,108.92 524.47,111.23 526.78,107.62 522.6,106.7 526.78,105.78 524.47,102.17 528.08,104.48"/></g>
<g fill="#f9c6cd"><polygon points="508.4,105.9 509.32,110.08 512.93,107.77 510.62,111.38 514.8,112.3 510.62,113.22 512.93,116.83 509.32,114.52 508.4,118.7 507.48,114.52 503.87,116.83 506.18,113.22 502,112.3 506.18,111.38 503.87,107.77 507.48,110.08"/></g>
<g fill="#f9c6cd"><circle cx="552.4" cy="84.8" r="3"/></g>
<g fill="#f9c6cd"><circle cx="559" cy="107.3" r="3"/></g>
<g fill="#f9c6cd"><ellipse cx="594.3" cy="95" rx="4.9" ry="1.5" fill="none" stroke="#f9c6cd" stroke-width="0.9"/><circle cx="594.3" cy="95" r="2.7"/></g>
<g fill="#f9c6cd"><ellipse cx="588.2" cy="111.6" rx="4.9" ry="1.5" fill="none" stroke="#f9c6cd" stroke-width="0.9"/><circle cx="588.2" cy="111.6" r="2.7"/></g>
<g fill="#f9c6cd"><polygon points="608,29.2 608.92,33.38 612.53,31.07 610.22,34.68 614.4,35.6 610.22,36.52 612.53,40.13 608.92,37.82 608,42 607.08,37.82 603.47,40.13 605.78,36.52 601.6,35.6 605.78,34.68 603.47,31.07 607.08,33.38"/></g>
<g fill="#f9c6cd"><polygon points="644.1,34.1 645.02,38.28 648.63,35.97 646.32,39.58 650.5,40.5 646.32,41.42 648.63,45.03 645.02,42.72 644.1,46.9 643.18,42.72 639.57,45.03 641.88,41.42 637.7,40.5 641.88,39.58 639.57,35.97 643.18,38.28"/></g>
<g fill="#f9c6cd"><ellipse cx="634.1" cy="91.4" rx="4.9" ry="1.5" fill="none" stroke="#f9c6cd" stroke-width="0.9"/><circle cx="634.1" cy="91.4" r="2.7"/></g>
<g fill="#f9c6cd"><ellipse cx="649.7" cy="100.2" rx="4.9" ry="1.5" fill="none" stroke="#f9c6cd" stroke-width="0.9"/><circle cx="649.7" cy="100.2" r="2.7"/></g>
<g fill="#bddaf5"><polygon points="689.8,49 692.37,54.44 698.37,53.95 694.95,58.9 698.37,63.85 692.37,63.36 689.8,68.8 687.23,63.36 681.23,63.85 684.65,58.9 681.23,53.95 687.23,54.44"/></g>
<g fill="#bddaf5"><polygon points="668.4,61.8 670.97,67.24 676.97,66.75 673.55,71.7 676.97,76.65 670.97,76.16 668.4,81.6 665.83,76.16 659.83,76.65 663.25,71.7 659.83,66.75 665.83,67.24"/></g>
<g fill="#bddaf5"><polygon points="737.5,38.5 739.25,43.9 735.75,43.9"/><polygon points="744.96,40.93 743.21,46.32 740.38,44.27"/><polygon points="749.58,47.28 744.98,50.61 743.9,47.28"/><polygon points="749.58,55.12 743.9,55.12 744.98,51.79"/><polygon points="744.96,61.47 740.38,58.13 743.21,56.08"/><polygon points="737.5,63.9 735.75,58.5 739.25,58.5"/><polygon points="730.04,61.47 731.79,56.08 734.62,58.13"/><polygon points="725.42,55.12 730.02,51.79 731.1,55.12"/><polygon points="725.42,47.28 731.1,47.28 730.02,50.61"/><polygon points="730.04,40.93 734.62,44.27 731.79,46.32"/><circle cx="737.5" cy="51.2" r="7.2"/><polygon points="734.5,30 735.08,31.4 736.59,31.52 735.44,32.51 735.79,33.98 734.5,33.19 733.21,33.98 733.56,32.51 732.41,31.52 733.92,31.4"/><polygon points="743.1,31 743.81,32.72 745.67,32.87 744.26,34.08 744.69,35.88 743.1,34.92 741.51,35.88 741.94,34.08 740.53,32.87 742.39,32.72"/><polygon points="727,37 727.4,37.95 728.43,38.04 727.64,38.71 727.88,39.71 727,39.17 726.12,39.71 726.36,38.71 725.57,38.04 726.6,37.95"/></g>
<g fill="#bddaf5"><polygon points="756.9,71.1 758.65,76.5 755.15,76.5"/><polygon points="764.36,73.53 762.61,78.92 759.78,76.87"/><polygon points="768.98,79.88 764.38,83.21 763.3,79.88"/><polygon points="768.98,87.72 763.3,87.72 764.38,84.39"/><polygon points="764.36,94.07 759.78,90.73 762.61,88.68"/><polygon points="756.9,96.5 755.15,91.1 758.65,91.1"/><polygon points="749.44,94.07 751.19,88.68 754.02,90.73"/><polygon points="744.82,87.72 749.42,84.39 750.5,87.72"/><polygon points="744.82,79.88 750.5,79.88 749.42,83.21"/><polygon points="749.44,73.53 754.02,76.87 751.19,78.92"/><circle cx="756.9" cy="83.8" r="7.2"/><polygon points="753.9,62.6 754.48,64 755.99,64.12 754.84,65.11 755.19,66.58 753.9,65.79 752.61,66.58 752.96,65.11 751.81,64.12 753.32,64"/><polygon points="762.5,63.6 763.21,65.32 765.07,65.47 763.66,66.68 764.09,68.48 762.5,67.52 760.91,68.48 761.34,66.68 759.93,65.47 761.79,65.32"/><polygon points="746.4,69.6 746.8,70.55 747.83,70.64 747.04,71.31 747.28,72.31 746.4,71.77 745.52,72.31 745.76,71.31 744.97,70.64 746,70.55"/></g>
<g fill="#f5b4ca"><polygon points="765.1,148 766.85,153.4 763.35,153.4"/><polygon points="772.56,150.43 770.81,155.82 767.98,153.77"/><polygon points="777.18,156.78 772.58,160.11 771.5,156.78"/><polygon points="777.18,164.62 771.5,164.62 772.58,161.29"/><polygon points="772.56,170.97 767.98,167.63 770.81,165.58"/><polygon points="765.1,173.4 763.35,168 766.85,168"/><polygon points="757.64,170.97 759.39,165.58 762.22,167.63"/><polygon points="753.02,164.62 757.62,161.29 758.7,164.62"/><polygon points="753.02,156.78 758.7,156.78 757.62,160.11"/><polygon points="757.64,150.43 762.22,153.77 759.39,155.82"/><circle cx="765.1" cy="160.7" r="7.2"/><polygon points="762.1,139.5 762.68,140.9 764.19,141.02 763.04,142.01 763.39,143.48 762.1,142.69 760.81,143.48 761.16,142.01 760.01,141.02 761.52,140.9"/><polygon points="770.7,140.5 771.41,142.22 773.27,142.37 771.86,143.58 772.29,145.38 770.7,144.41 769.11,145.38 769.54,143.58 768.13,142.37 769.99,142.22"/><polygon points="754.6,146.5 755,147.45 756.03,147.54 755.24,148.21 755.48,149.21 754.6,148.68 753.72,149.21 753.96,148.21 753.17,147.54 754.2,147.45"/></g>
<g fill="#f5b4ca"><polygon points="717,125.3 719.57,130.74 725.57,130.25 722.15,135.2 725.57,140.15 719.57,139.66 717,145.1 714.43,139.66 708.43,140.15 711.85,135.2 708.43,130.25 714.43,130.74"/></g>
<g fill="#f5b4ca"><polygon points="702,148.3 704.57,153.74 710.57,153.25 707.15,158.2 710.57,163.15 704.57,162.66 702,168.1 699.43,162.66 693.43,163.15 696.85,158.2 693.43,153.25 699.43,153.74"/></g>
<g fill="#f5b4ca"><polygon points="637,157.2 637.92,161.38 641.53,159.07 639.22,162.68 643.4,163.6 639.22,164.52 641.53,168.13 637.92,165.82 637,170 636.08,165.82 632.47,168.13 634.78,164.52 630.6,163.6 634.78,162.68 632.47,159.07 636.08,161.38"/></g>
<g fill="#f5b4ca"><polygon points="619.7,163 620.62,167.18 624.23,164.87 621.92,168.48 626.1,169.4 621.92,170.32 624.23,173.93 620.62,171.62 619.7,175.8 618.78,171.62 615.17,173.93 617.48,170.32 613.3,169.4 617.48,168.48 615.17,164.87 618.78,167.18"/></g>
<g fill="#cfb9e7"><polygon points="501,150.6 503.44,155.77 509.14,155.3 505.89,160 509.14,164.7 503.44,164.23 501,169.4 498.56,164.23 492.86,164.7 496.11,160 492.86,155.3 498.56,155.77"/></g>
<g fill="#cfb9e7"><circle cx="549.4" cy="145.8" r="3"/></g>
<g fill="#f5b4ca"><ellipse cx="577.8" cy="167.3" rx="4.9" ry="1.5" fill="none" stroke="#f5b4ca" stroke-width="0.9"/><circle cx="577.8" cy="167.3" r="2.7"/></g>
<g fill="#cfb9e7"><ellipse cx="560.1" cy="178.4" rx="4.9" ry="1.5" fill="none" stroke="#cfb9e7" stroke-width="0.9"/><circle cx="560.1" cy="178.4" r="2.7"/></g>
<g fill="#f9c6cd"><polygon points="432.4,194.2 434.15,199.6 430.65,199.6"/><polygon points="439.86,196.63 438.11,202.02 435.28,199.97"/><polygon points="444.48,202.98 439.88,206.31 438.8,202.98"/><polygon points="444.48,210.82 438.8,210.82 439.88,207.49"/><polygon points="439.86,217.17 435.28,213.83 438.11,211.78"/><polygon points="432.4,219.6 430.65,214.2 434.15,214.2"/><polygon points="424.94,217.17 426.69,211.78 429.52,213.83"/><polygon points="420.32,210.82 424.92,207.49 426,210.82"/><polygon points="420.32,202.98 426,202.98 424.92,206.31"/><polygon points="424.94,196.63 429.52,199.97 426.69,202.02"/><circle cx="432.4" cy="206.9" r="7.2"/><polygon points="429.4,185.7 429.98,187.1 431.49,187.22 430.34,188.21 430.69,189.68 429.4,188.89 428.11,189.68 428.46,188.21 427.31,187.22 428.82,187.1"/><polygon points="438,186.7 438.71,188.42 440.57,188.57 439.16,189.78 439.59,191.58 438,190.62 436.41,191.58 436.84,189.78 435.43,188.57 437.29,188.42"/><polygon points="421.9,192.7 422.3,193.65 423.33,193.74 422.54,194.41 422.78,195.41 421.9,194.88 421.02,195.41 421.26,194.41 420.47,193.74 421.5,193.65"/></g>
<g fill="#f9c6cd"><polygon points="460.4,214.2 462.15,219.6 458.65,219.6"/><polygon points="467.86,216.63 466.11,222.02 463.28,219.97"/><polygon points="472.48,222.98 467.88,226.31 466.8,222.98"/><polygon points="472.48,230.82 466.8,230.82 467.88,227.49"/><polygon points="467.86,237.17 463.28,233.83 466.11,231.78"/><polygon points="460.4,239.6 458.65,234.2 462.15,234.2"/><polygon points="452.94,237.17 454.69,231.78 457.52,233.83"/><polygon points="448.32,230.82 452.92,227.49 454,230.82"/><polygon points="448.32,222.98 454,222.98 452.92,226.31"/><polygon points="452.94,216.63 457.52,219.97 454.69,222.02"/><circle cx="460.4" cy="226.9" r="7.2"/><polygon points="457.4,205.7 457.98,207.1 459.49,207.22 458.34,208.21 458.69,209.68 457.4,208.89 456.11,209.68 456.46,208.21 455.31,207.22 456.82,207.1"/><polygon points="466,206.7 466.71,208.42 468.57,208.57 467.16,209.78 467.59,211.58 466,210.62 464.41,211.58 464.84,209.78 463.43,208.57 465.29,208.42"/><polygon points="449.9,212.7 450.3,213.65 451.33,213.74 450.54,214.41 450.78,215.41 449.9,214.88 449.02,215.41 449.26,214.41 448.47,213.74 449.5,213.65"/></g>
<g fill="#cfb9e7"><polygon points="532.7,203.6 533.62,207.78 537.23,205.47 534.92,209.08 539.1,210 534.92,210.92 537.23,214.53 533.62,212.22 532.7,216.4 531.78,212.22 528.17,214.53 530.48,210.92 526.3,210 530.48,209.08 528.17,205.47 531.78,207.78"/></g>
<g fill="#cfb9e7"><polygon points="553.6,217.5 554.52,221.68 558.13,219.37 555.82,222.98 560,223.9 555.82,224.82 558.13,228.43 554.52,226.12 553.6,230.3 552.68,226.12 549.07,228.43 551.38,224.82 547.2,223.9 551.38,222.98 549.07,219.37 552.68,221.68"/></g>
<g fill="#cfb9e7"><ellipse cx="612.7" cy="212.3" rx="4.9" ry="1.5" fill="none" stroke="#cfb9e7" stroke-width="0.9"/><circle cx="612.7" cy="212.3" r="2.7"/></g>
<g fill="#cfb9e7"><ellipse cx="631.2" cy="217.6" rx="4.9" ry="1.5" fill="none" stroke="#cfb9e7" stroke-width="0.9"/><circle cx="631.2" cy="217.6" r="2.7"/></g>
<g fill="#cfb9e7"><circle cx="599.5" cy="237.3" r="3"/></g>
<g fill="#cfb9e7"><circle cx="619.2" cy="245.2" r="3"/></g>
<g fill="#cfb9e7"><ellipse cx="732.7" cy="210.1" rx="4.9" ry="1.5" fill="none" stroke="#cfb9e7" stroke-width="0.9"/><circle cx="732.7" cy="210.1" r="2.7"/></g>
<g fill="#f5b4ca"><polygon points="706.8,217.9 709.37,223.34 715.37,222.85 711.95,227.8 715.37,232.75 709.37,232.26 706.8,237.7 704.23,232.26 698.23,232.75 701.65,227.8 698.23,222.85 704.23,223.34"/></g>
<g fill="#f5b4ca"><polygon points="683.5,231.8 686.07,237.24 692.07,236.75 688.65,241.7 692.07,246.65 686.07,246.16 683.5,251.6 680.93,246.16 674.93,246.65 678.35,241.7 674.93,236.75 680.93,237.24"/></g>
<g font-family='"Liberation Sans", sans-serif' text-anchor="middle">
<text x="463.6" y="64.4" font-size="2.9" fill="#8a8a8a" textLength="14" lengthAdjust="spacingAndGlyphs">ODETTE OXFORD</text>
<text x="463.6" y="68.5" font-size="2.2" fill="#333" textLength="9.5" lengthAdjust="spacingAndGlyphs">12/04/1951</text>
<text x="437.1" y="84.5" font-size="2.9" fill="#8a8a8a" textLength="13" lengthAdjust="spacingAndGlyphs">SIMON OXFORD</text>
<text x="437.1" y="88.6" font-size="2.2" fill="#333" textLength="9.5" lengthAdjust="spacingAndGlyphs">14/06/1949</text>
<text x="504.1" y="82.8" font-size="2.9" fill="#8a8a8a" textLength="20" lengthAdjust="spacingAndGlyphs">BERNADETTE WILLIAMS</text>
<text x="504.1" y="86.9" font-size="2.2" fill="#333" textLength="9.5" lengthAdjust="spacingAndGlyphs">08/02/1974</text>
<text x="484.5" y="107.6" font-size="2.9" fill="#8a8a8a" textLength="16" lengthAdjust="spacingAndGlyphs">DANIEL WILLIAMS</text>
<text x="484.5" y="111.7" font-size="2.2" fill="#333" textLength="9.5" lengthAdjust="spacingAndGlyphs">05/11/1970</text>
<text x="529" y="118.7" font-size="2.9" fill="#8a8a8a" textLength="15" lengthAdjust="spacingAndGlyphs">STEVE WILLIAMS</text>
<text x="529" y="122.8" font-size="2.2" fill="#333" textLength="9.5" lengthAdjust="spacingAndGlyphs">02/08/1999</text>
<text x="508.4" y="124.4" font-size="2.9" fill="#8a8a8a" textLength="18" lengthAdjust="spacingAndGlyphs">BRIGITTE WILLIAMS</text>
<text x="508.4" y="128.5" font-size="2.2" fill="#333" textLength="9.5" lengthAdjust="spacingAndGlyphs">18/03/1997</text>
<text x="552.4" y="92.7" font-size="2.9" fill="#8a8a8a" textLength="14" lengthAdjust="spacingAndGlyphs">LOLA WILLIAMS</text>
<text x="552.4" y="96.8" font-size="2.2" fill="#333" textLength="9.5" lengthAdjust="spacingAndGlyphs">12/05/2001</text>
<text x="559" y="115.4" font-size="2.9" fill="#8a8a8a" textLength="13" lengthAdjust="spacingAndGlyphs">OKI WILLIAMS</text>
<text x="559" y="119.5" font-size="2.2" fill="#333" textLength="9.5" lengthAdjust="spacingAndGlyphs">22/10/2003</text>
<text x="594.3" y="102.8" font-size="2.9" fill="#8a8a8a" textLength="14" lengthAdjust="spacingAndGlyphs">JANE WILLIAMS</text>
<text x="594.3" y="106.9" font-size="2.2" fill="#333" textLength="9.5" lengthAdjust="spacingAndGlyphs">09/01/1962</text>
<text x="588.2" y="119.8" font-size="2.9" fill="#8a8a8a" textLength="15" lengthAdjust="spacingAndGlyphs">CARLY WILLIAMS</text>
<text x="588.2" y="123.9" font-size="2.2" fill="#333" textLength="9.5" lengthAdjust="spacingAndGlyphs">07/07/1964</text>
<text x="608" y="47.5" font-size="2.9" fill="#8a8a8a" textLength="17" lengthAdjust="spacingAndGlyphs">MICHAEL WILLIAMS</text>
<text x="608" y="51.6" font-size="2.2" fill="#333" textLength="9.5" lengthAdjust="spacingAndGlyphs">04/09/1941</text>
<text x="644.1" y="52.8" font-size="2.9" fill="#8a8a8a" textLength="17" lengthAdjust="spacingAndGlyphs">DOROTHY WILLIAMS</text>
<text x="644.1" y="56.9" font-size="2.2" fill="#333" textLength="9.5" lengthAdjust="spacingAndGlyphs">17/12/1943</text>
<text x="634.1" y="99.6" font-size="2.9" fill="#8a8a8a" textLength="12" lengthAdjust="spacingAndGlyphs">JASON SMITH</text>
<text x="634.1" y="103.7" font-size="2.2" fill="#333" textLength="9.5" lengthAdjust="spacingAndGlyphs">30/06/1960</text>
<text x="649.7" y="108.5" font-size="2.9" fill="#8a8a8a" textLength="13" lengthAdjust="spacingAndGlyphs">ROBERT SMITH</text>
<text x="649.7" y="112.6" font-size="2.2" fill="#333" textLength="9.5" lengthAdjust="spacingAndGlyphs">11/11/1958</text>
<text x="689.8" y="74.2" font-size="2.9" fill="#8a8a8a" textLength="16" lengthAdjust="spacingAndGlyphs">GEORGE STANDARD</text>
<text x="689.8" y="78.3" font-size="2.2" fill="#333" textLength="9.5" lengthAdjust="spacingAndGlyphs">02/02/1946</text>
<text x="668.4" y="87.6" font-size="2.9" fill="#8a8a8a" textLength="14" lengthAdjust="spacingAndGlyphs">MARY STANDARD</text>
<text x="668.4" y="91.7" font-size="2.2" fill="#333" textLength="9.5" lengthAdjust="spacingAndGlyphs">21/05/1948</text>
<text x="737.5" y="68.9" font-size="2.9" fill="#8a8a8a" textLength="14" lengthAdjust="spacingAndGlyphs">CARL STANDARD</text>
<text x="737.5" y="73" font-size="2.2" fill="#333" textLength="9.5" lengthAdjust="spacingAndGlyphs">02/07/1977</text>
<text x="756.9" y="102.1" font-size="2.9" fill="#8a8a8a" textLength="15" lengthAdjust="spacingAndGlyphs">BETTY STANDARD</text>
<text x="756.9" y="106.2" font-size="2.2" fill="#333" textLength="9.5" lengthAdjust="spacingAndGlyphs">14/04/1979</text>
<text x="765.1" y="178.6" font-size="2.9" fill="#8a8a8a" textLength="10" lengthAdjust="spacingAndGlyphs">EMY GOMEZ</text>
<text x="765.1" y="182.7" font-size="2.2" fill="#333" textLength="9.5" lengthAdjust="spacingAndGlyphs">28/08/1980</text>
<text x="717" y="150.5" font-size="2.9" fill="#8a8a8a" textLength="10" lengthAdjust="spacingAndGlyphs">BEN GOMEZ</text>
<text x="717" y="154.6" font-size="2.2" fill="#333" textLength="9.5" lengthAdjust="spacingAndGlyphs">05/03/2004</text>
<text x="702" y="173.8" font-size="2.9" fill="#8a8a8a" textLength="12" lengthAdjust="spacingAndGlyphs">SOFIA GOMEZ</text>
<text x="702" y="177.9" font-size="2.2" fill="#333" textLength="9.5" lengthAdjust="spacingAndGlyphs">19/09/2006</text>
<text x="637" y="175.6" font-size="2.9" fill="#8a8a8a" textLength="15" lengthAdjust="spacingAndGlyphs">ISABELLA GOMEZ</text>
<text x="637" y="179.7" font-size="2.2" fill="#333" textLength="9.5" lengthAdjust="spacingAndGlyphs">08/10/1982</text>
<text x="619.7" y="182.1" font-size="2.9" fill="#8a8a8a" textLength="13" lengthAdjust="spacingAndGlyphs">MARTIN GOMEZ</text>
<text x="619.7" y="186.2" font-size="2.2" fill="#333" textLength="9.5" lengthAdjust="spacingAndGlyphs">16/01/1979</text>
<text x="501" y="176.1" font-size="2.9" fill="#8a8a8a" textLength="16" lengthAdjust="spacingAndGlyphs">ELIZABETH DAVIS</text>
<text x="501" y="180.2" font-size="2.2" fill="#333" textLength="9.5" lengthAdjust="spacingAndGlyphs">25/12/1985</text>
<text x="549.4" y="153.8" font-size="2.9" fill="#8a8a8a" textLength="22" lengthAdjust="spacingAndGlyphs">ROBERT GOMEZ ANDERSON</text>
<text x="549.4" y="157.9" font-size="2.2" fill="#333" textLength="9.5" lengthAdjust="spacingAndGlyphs">12/12/2010</text>
<text x="577.8" y="175.1" font-size="2.9" fill="#8a8a8a" textLength="13" lengthAdjust="spacingAndGlyphs">SOPHIA GOMEZ</text>
<text x="577.8" y="179.2" font-size="2.2" fill="#333" textLength="9.5" lengthAdjust="spacingAndGlyphs">06/06/2009</text>
<text x="560.1" y="186.1" font-size="2.9" fill="#8a8a8a" textLength="19" lengthAdjust="spacingAndGlyphs">CHARLOTTE ANDERSON</text>
<text x="560.1" y="190.2" font-size="2.2" fill="#333" textLength="9.5" lengthAdjust="spacingAndGlyphs">01/09/2011</text>
<text x="432.4" y="225.3" font-size="2.9" fill="#8a8a8a" textLength="15" lengthAdjust="spacingAndGlyphs">SUSAN WILLIAMS</text>
<text x="432.4" y="229.4" font-size="2.2" fill="#333" textLength="9.5" lengthAdjust="spacingAndGlyphs">27/04/1967</text>
<text x="460.4" y="245.4" font-size="2.9" fill="#8a8a8a" textLength="21" lengthAdjust="spacingAndGlyphs">CHRISTOPHER WILLIAMS</text>
<text x="460.4" y="249.5" font-size="2.2" fill="#333" textLength="9.5" lengthAdjust="spacingAndGlyphs">10/10/1965</text>
<text x="532.7" y="222.1" font-size="2.9" fill="#8a8a8a" textLength="17" lengthAdjust="spacingAndGlyphs">SIGMUND ROBINSON</text>
<text x="532.7" y="226.2" font-size="2.2" fill="#333" textLength="9.5" lengthAdjust="spacingAndGlyphs">13/02/1972</text>
<text x="553.6" y="235.8" font-size="2.9" fill="#8a8a8a" textLength="19" lengthAdjust="spacingAndGlyphs">STEPHANIE ROBINSON</text>
<text x="553.6" y="239.9" font-size="2.2" fill="#333" textLength="9.5" lengthAdjust="spacingAndGlyphs">04/04/1974</text>
<text x="612.7" y="219.9" font-size="2.9" fill="#8a8a8a" textLength="18" lengthAdjust="spacingAndGlyphs">PHILIPPE ROBINSON</text>
<text x="612.7" y="224" font-size="2.2" fill="#333" textLength="9.5" lengthAdjust="spacingAndGlyphs">15/05/1995</text>
<text x="631.2" y="225.6" font-size="2.9" fill="#8a8a8a" textLength="16" lengthAdjust="spacingAndGlyphs">SOPHIA ROBINSON</text>
<text x="631.2" y="229.7" font-size="2.2" fill="#333" textLength="9.5" lengthAdjust="spacingAndGlyphs">20/07/1998</text>
<text x="599.5" y="245.4" font-size="2.9" fill="#8a8a8a" textLength="15" lengthAdjust="spacingAndGlyphs">LOUIS ROBINSON</text>
<text x="599.5" y="249.5" font-size="2.2" fill="#333" textLength="9.5" lengthAdjust="spacingAndGlyphs">23/03/2002</text>
<text x="619.2" y="253.1" font-size="2.9" fill="#8a8a8a" textLength="14" lengthAdjust="spacingAndGlyphs">MARK ROBINSON</text>
<text x="619.2" y="257.2" font-size="2.2" fill="#333" textLength="9.5" lengthAdjust="spacingAndGlyphs">09/09/2000</text>
<text x="732.7" y="217.4" font-size="2.9" fill="#8a8a8a" textLength="11" lengthAdjust="spacingAndGlyphs">EMMA DAVIS</text>
<text x="732.7" y="221.5" font-size="2.2" fill="#333" textLength="9.5" lengthAdjust="spacingAndGlyphs">03/03/2008</text>
<text x="706.8" y="244.1" font-size="2.9" fill="#8a8a8a" textLength="14" lengthAdjust="spacingAndGlyphs">RODRIGO LOPEZ</text>
<text x="706.8" y="248.2" font-size="2.2" fill="#333" textLength="9.5" lengthAdjust="spacingAndGlyphs">06/12/1983</text>
<text x="683.5" y="257.5" font-size="2.9" fill="#8a8a8a" textLength="13" lengthAdjust="spacingAndGlyphs">SANDRA LOPEZ</text>
<text x="683.5" y="261.6" font-size="2.2" fill="#333" textLength="9.5" lengthAdjust="spacingAndGlyphs">29/01/1985</text>
</g>
<text x="503.2" y="23.9" font-family='"Liberation Sans", sans-serif' font-size="15" fill="#9a9a9a" textLength="78.7" lengthAdjust="spacingAndGlyphs">M<tspan font-size="12.8">ODERN</tspan> F<tspan font-size="12.8">AMILY</tspan> T<tspan font-size="12.8">REE</tspan></text>
<ellipse cx="395.6" cy="277.4" rx="69.6" ry="44" fill="#0c1a2b"/>
<text x="338.8" y="274.5" font-family='"Liberation Sans", sans-serif' font-weight="bold" font-size="11.8" fill="#ececec" textLength="110.8" lengthAdjust="spacingAndGlyphs">All designs included</text>
<text x="347.8" y="288.6" font-family='"Liberation Sans", sans-serif' font-weight="bold" font-size="11.8" fill="#ececec" textLength="93.2" lengthAdjust="spacingAndGlyphs">And many more!</text>
</svg></body></html>
